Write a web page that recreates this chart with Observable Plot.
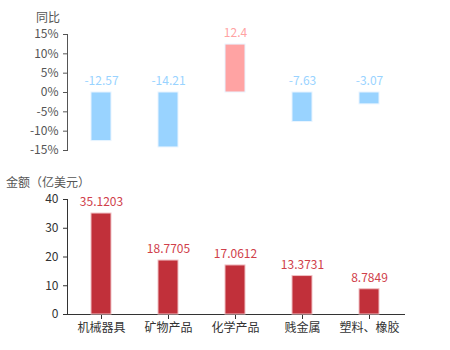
<!DOCTYPE html>
<html><head><meta charset="utf-8">
<script src="https://cdn.jsdelivr.net/npm/d3@7"></script>
<script src="https://cdn.jsdelivr.net/npm/@observablehq/plot@0.6"></script>
<style>
body{margin:0;background:#fff;font-family:"Noto Sans CJK SC","Noto Sans",sans-serif;}
#wrap{position:relative;width:450px;height:350px;}
.ttl{position:absolute;font-size:12px;line-height:12px;color:#555;}
#p1,#p2{position:absolute;left:0;}
#p1{top:0}#p2{top:160px}
</style></head><body>
<div id="wrap">
<div id="p1"></div><div id="p2"></div>
<div class="ttl" style="left:36px;top:11px">同比</div>
<div class="ttl" style="left:6px;top:176px">金额（亿美元）</div>
</div>
<script>
const categories = ["机械器具","矿物产品","化学产品","贱金属","塑料、橡胶"];
const yoy = [-12.57,-14.21,12.4,-7.63,-3.07];
const amount = [35.1203,18.7705,17.0612,13.3731,8.7849];
const yoyTicks = [-15,-10,-5,0,5,10,15];
const amountTicks = [0,10,20,30,40];

const d1 = categories.map((c,i)=>({c, v: yoy[i]}));
const d2 = categories.map((c,i)=>({c, v: amount[i]}));
const font = `"Noto Sans CJK SC","Noto Sans",sans-serif`;
const col1 = d=> d.v>=0 ? "#ffa3a3" : "#99d3ff";

const p1 = Plot.plot({
  width:450, height:160,
  marginLeft:67, marginRight:46, marginTop:34, marginBottom:10,
  style:{fontFamily:font, fontSize:"12px", color:"#555", background:"transparent"},
  x:{domain:categories, paddingInner:0.7, paddingOuter:0.35, axis:null},
  y:{domain:[-15,15], ticks:yoyTicks, tickFormat:d=>d+"%", line:true, label:null, tickSize:4},
  marks:[
    Plot.barY(d1,{x:"c", y:"v", fill:col1, stroke:"#e8f4ff", strokeWidth:1}),
    Plot.text(d1,{x:"c", y:d=>Math.max(0,d.v), text:d=>String(d.v), fill:col1, dy:-11, fontSize:12})
  ]
});
document.getElementById("p1").appendChild(p1);

const p2 = Plot.plot({
  width:450, height:190,
  marginLeft:67, marginRight:46, marginTop:39, marginBottom:36,
  style:{fontFamily:font, fontSize:"12px", color:"#333", background:"transparent"},
  x:{domain:categories, paddingInner:0.7, paddingOuter:0.35, line:true, label:null, tickSize:5, tickPadding:4},
  y:{domain:[0,40], ticks:amountTicks, line:true, label:null, tickSize:4},
  marks:[
    Plot.barY(d2,{x:"c", y:"v", fill:"#c1303a", stroke:"#f0c0c4", strokeWidth:1}),
    Plot.text(d2,{x:"c", y:"v", text:d=>d.v.toFixed(4), fill:"#d0404a", dy:-11, fontSize:12})
  ]
});
document.getElementById("p2").appendChild(p2);
</script>
</body></html>
